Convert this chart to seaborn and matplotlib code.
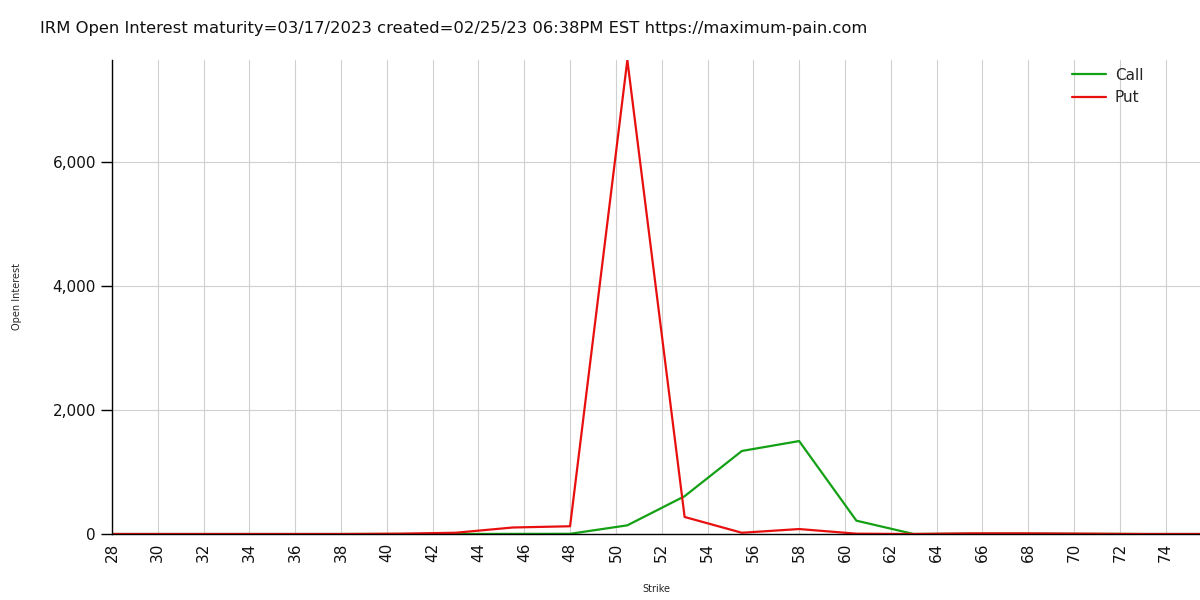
import matplotlib
matplotlib.use("Agg")
import matplotlib.pyplot as plt
import matplotlib.ticker as mticker
import seaborn as sns
import pandas as pd

strikes = [28, 30.5, 33, 35.5, 38, 40.5, 43, 45.5, 48, 50.5, 53, 55.5, 58, 60.5, 63, 65.5, 68, 70.5, 73, 75.5]
calls = [0, 0, 0, 0, 0, 0, 0, 2, 3, 140, 610, 1340, 1500, 215, 0, 5, 5, 2, 0, 0]
puts = [0, 0, 0, 0, 0, 5, 20, 105, 125, 7650, 275, 20, 80, 5, 0, 10, 10, 5, 0, 0]
xticks = list(range(28, 76, 2))

df = pd.DataFrame({
    "Strike": strikes * 2,
    "Open Interest": calls + puts,
    "Type": ["Call"] * len(strikes) + ["Put"] * len(strikes),
})

sns.set_theme(style="white")
plt.rcParams["font.family"] = ["DejaVu Sans"]

fig = plt.figure(figsize=(12, 6), dpi=100)
ax = fig.add_axes([0.0933, 0.11, 0.9067, 0.79])

sns.lineplot(data=df, x="Strike", y="Open Interest", hue="Type",
             palette={"Call": "#14a014", "Put": "#e80f0f"}, linewidth=1.6, ax=ax)

ax.set_xlim(28, 75.5)
ax.set_ylim(0, 7650)
ax.set_xticks(xticks)
ax.set_xticklabels([str(t) for t in xticks], rotation=90, fontsize=11, color="#111111")
ax.set_yticks([0, 2000, 4000, 6000])
ax.yaxis.set_major_formatter(mticker.FuncFormatter(lambda v, p: f"{int(v):,}"))
ax.tick_params(axis="y", labelsize=11, labelcolor="#111111", length=8, width=1, color="black", direction="out", left=True)
ax.tick_params(axis="x", length=0, pad=6)
ax.grid(True, color="#d0d0d0", linewidth=0.8)
ax.set_axisbelow(True)
for s in ["top", "right"]:
    ax.spines[s].set_visible(False)
for s in ["left", "bottom"]:
    ax.spines[s].set_color("black")
    ax.spines[s].set_linewidth(1.0)

ax.set_xlabel("Strike", fontsize=7, labelpad=16)
ax.set_ylabel("Open Interest", fontsize=7, labelpad=22)

leg = ax.legend(loc="upper right", frameon=False, fontsize=11, handlelength=2.2,
                handletextpad=0.6, bbox_to_anchor=(0.955, 1.0), borderaxespad=0.1)

fig.text(0.033, 0.953, "IRM Open Interest maturity=03/17/2023 created=02/25/23 06:38PM EST https://maximum-pain.com",
         fontsize=11.8, ha="left", va="center", color="#111111")

fig.savefig("out.png", dpi=100)
